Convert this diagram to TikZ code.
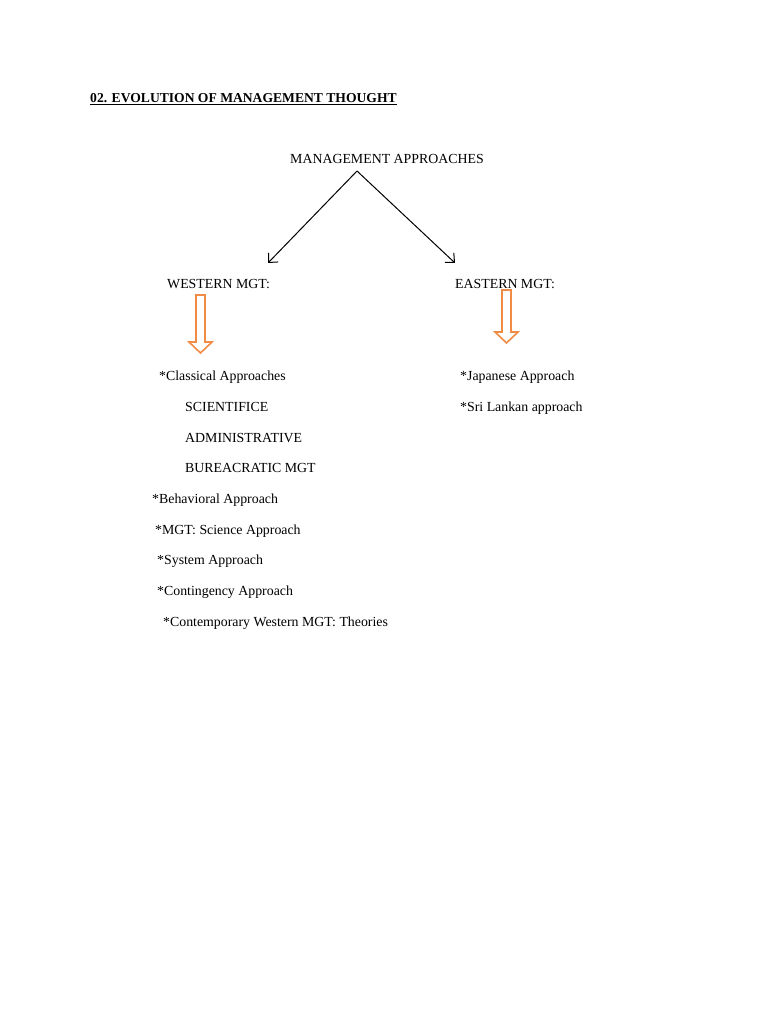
\documentclass[tikz,border=0pt]{standalone}
\usepackage{fontspec}
\setmainfont{Liberation Serif}
\usetikzlibrary{arrows.meta}
\definecolor{arrorange}{RGB}{240,140,70}
\begin{document}
\begin{tikzpicture}[x=1pt,y=-1pt,
  txt/.style={anchor=base west,inner sep=0pt,font=\fontsize{13.85}{16}\selectfont},
  ttl/.style={anchor=base west,inner sep=0pt,font=\fontsize{13.6}{16}\selectfont\bfseries},
  branch/.style={draw=black,line width=1pt,-{Straight Barb[length=7pt,width=13pt,line width=1pt]}},
  blockarrow/.style={draw=arrorange,line width=1.6pt,fill=white,line join=miter}]
\useasboundingbox[fill=white] (0,0) rectangle (768,1024);
\node[ttl] (title) at (90,103) {\underline{02. EVOLUTION OF MANAGEMENT THOUGHT}};
\node[txt] (root) at (290,164) {MANAGEMENT APPROACHES};
\coordinate (apex) at (357,171);
\coordinate (ltip) at (268,263);
\coordinate (rtip) at (455,263);
\draw[branch] (apex) -- (ltip);
\draw[branch] (apex) -- (rtip);
\node[txt] (west) at (167,288) {WESTERN MGT:};
\node[txt] (east) at (455,288) {EASTERN MGT:};
% western block arrow
\draw[blockarrow] (196,295) -- (205,295) -- (205,342) -- (212,342) -- (200.5,353) -- (189,342) -- (196,342) -- cycle;
% eastern block arrow
\draw[blockarrow] (502,290) -- (511,290) -- (511,332) -- (518,332) -- (506.5,343) -- (495,332) -- (502,332) -- cycle;
\node[txt] (w1) at (159,380) {*Classical Approaches};
\node[txt] (w2) at (185,411) {SCIENTIFICE};
\node[txt] (w3) at (185,442) {ADMINISTRATIVE};
\node[txt] (w4) at (185,472) {BUREACRATIC MGT};
\node[txt] (w5) at (152,503) {*Behavioral Approach};
\node[txt] (w6) at (155,534) {*MGT: Science Approach};
\node[txt] (w7) at (157,564) {*System Approach};
\node[txt] (w8) at (157,595) {*Contingency Approach};
\node[txt] (w9) at (163,626) {*Contemporary Western MGT: Theories};
\node[txt] (e1) at (460,380) {*Japanese Approach};
\node[txt] (e2) at (460,411) {*Sri Lankan approach};
\end{tikzpicture}
\end{document}
